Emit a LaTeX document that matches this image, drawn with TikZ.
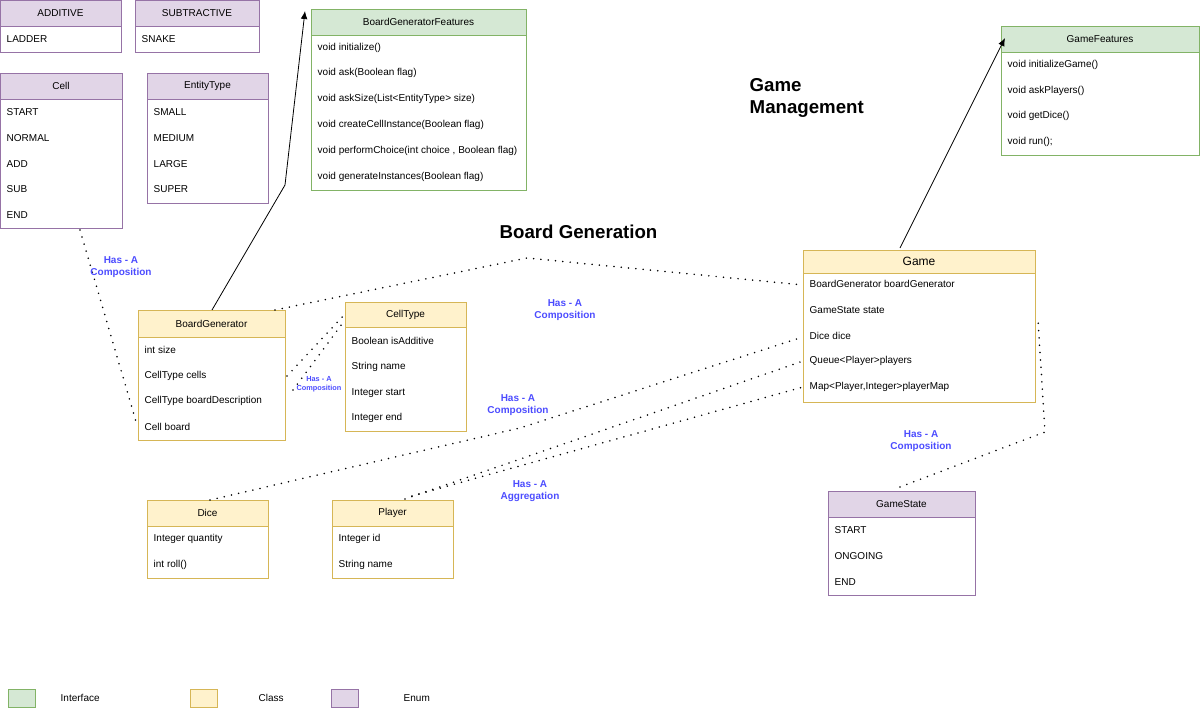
\documentclass[tikz,border=0pt]{standalone}
\usepackage{fontspec}
\setmainfont{Liberation Sans}
\begin{document}
\begin{tikzpicture}[x=0.75pt,y=-0.75pt,font=\fontsize{7.5}{9}\selectfont,
 dots/.style={line width=1.3pt,dotted,line cap=round,dash pattern=on 0pt off 5.5pt},
 lbl/.style={text=blue!70!white,font=\fontsize{7.5}{9}\selectfont\bfseries,align=center},
 arr/.style={-{Latex[length=6pt,width=5pt]},line width=0.6pt}]
\usetikzlibrary{arrows.meta}
\definecolor{gf}{HTML}{D5E8D4}\definecolor{gs}{HTML}{82B366}
\definecolor{yf}{HTML}{FFF2CC}\definecolor{ys}{HTML}{D6B656}
\definecolor{pf}{HTML}{E1D5E7}\definecolor{ps}{HTML}{9673A6}
\useasboundingbox (0,0) rectangle (1200,713);
% box macro: name, x1,y1,x2,y2, header bottom, fill, stroke, title
\newcommand{\umlbox}[9]{%
 \fill[white] (#2,#3) rectangle (#4,#5);
 \fill[#7] (#2,#3) rectangle (#4,#6);
 \draw[#8,line width=0.6pt] (#2,#3) rectangle (#4,#5) (#2,#6) -- (#4,#6);
 \node (#1) at ({(#2+#4)/2},{(#3+#6)/2}) {#9};
 \coordinate (#1-nw) at (#2,#3);}
\newcommand{\row}[3]{\node[anchor=west] at (#1,#2) {#3};}
% enums
\umlbox{add}{0}{0}{121}{52}{26}{pf}{ps}{ADDITIVE}\row{2}{39}{LADDER}
\umlbox{sub}{135}{0}{259}{52}{26}{pf}{ps}{SUBTRACTIVE}\row{137}{39}{SNAKE}
\umlbox{cell}{0}{73}{122}{228}{99}{pf}{ps}{Cell}
\row{2}{112}{START}\row{2}{138}{NORMAL}\row{2}{164}{ADD}\row{2}{189}{SUB}\row{2}{215}{END}
\umlbox{ent}{147}{73}{268}{203}{99}{pf}{ps}{EntityType}
\row{149}{112}{SMALL}\row{149}{138}{MEDIUM}\row{149}{164}{LARGE}\row{149}{189}{SUPER}
\umlbox{gs}{828}{491}{975}{595}{517}{pf}{ps}{GameState}
\row{830}{530}{START}\row{830}{556}{ONGOING}\row{830}{582}{END}
% interfaces
\umlbox{bgf}{311}{9}{526}{190}{35}{gf}{gs}{BoardGeneratorFeatures}
\row{313}{48}{void initialize()}\row{313}{73}{void ask(Boolean flag)}
\row{313}{99}{void askSize(List<EntityType> size)}\row{313}{125}{void createCellInstance(Boolean flag)}
\row{313}{151}{void performChoice(int choice , Boolean flag)}\row{313}{177}{void generateInstances(Boolean flag)}
\umlbox{gf}{1001}{26}{1199}{155}{52}{gf}{gs}{GameFeatures}
\row{1003}{65}{void initializeGame()}\row{1003}{91}{void askPlayers()}\row{1003}{116}{void getDice()}\row{1003}{142}{void run();}
% classes
\umlbox{game}{803}{250}{1035}{402}{273}{yf}{ys}{\fontsize{9}{11}\selectfont Game}
\row{805}{284}{BoardGenerator boardGenerator}\row{805}{310}{GameState state}\row{805}{336}{Dice dice}
\row{805}{361}{Queue<Player>players}\row{805}{387}{Map<Player,Integer>playerMap}
\umlbox{bg}{138}{310}{285}{440}{337}{yf}{ys}{BoardGenerator}
\row{140}{350}{int size}\row{140}{376}{CellType cells}\row{140}{401}{CellType boardDescription}\row{140}{427}{Cell board}
\umlbox{ct}{345}{302}{466}{431}{327}{yf}{ys}{CellType}
\row{347}{341}{Boolean isAdditive}\row{347}{367}{String name}\row{347}{393}{Integer start}\row{347}{418}{Integer end}
\umlbox{dice}{147}{500}{268}{578}{526}{yf}{ys}{Dice}
\row{149}{539}{Integer quantity}\row{149}{565}{int roll()}
\umlbox{pl}{332}{500}{453}{578}{526}{yf}{ys}{Player}
\row{334}{539}{Integer id}\row{334}{565}{String name}
% titles
\node[anchor=west,font=\fontsize{14}{17}\selectfont\bfseries,align=left] (t1) at (745,98) {Game\\Management};
\node[anchor=west,font=\fontsize{14}{17}\selectfont\bfseries] (t2) at (495,232) {Board Generation};
% arrows
\coordinate (a1) at (212,310);\coordinate (a2) at (285,185);\coordinate (a3) at (305,11);
\draw[arr] (a1) -- (a2) -- (a3);
\coordinate (b1) at (900,248);\coordinate (b2) at (1005,38);
\draw[arr] (b1) -- (b2);
% dotted
\coordinate (c1) at (80,230);\coordinate (c2) at (137,425);
\draw[dots] (c1) -- (c2);
\node[lbl] (l1) at (121,267) {Has - A\\Composition};
\coordinate (d1) at (275,310);\coordinate (d2) at (527,258);\coordinate (d3) at (803,285);
\draw[dots] (d1) -- (d2) -- (d3);
\node[lbl] (l2) at (565,310) {Has - A\\Composition};
\coordinate (e1) at (287,376);\coordinate (e2) at (345,314);
\coordinate (e3) at (293,390);\coordinate (e4) at (345,320);
\draw[dots] (e1) -- (e2); \draw[dots] (e3) -- (e4);
\node[lbl,font=\fontsize{5.5}{6.5}\selectfont\bfseries] (l3) at (319,384) {Has - A\\Composition};
\coordinate (f1) at (210,500);\coordinate (f2) at (520,428);\coordinate (f3) at (803,337);
\draw[dots] (f1) -- (f2) -- (f3);
\node[lbl] (l4) at (518,405) {Has - A\\Composition};
\coordinate (g1) at (405,499);\coordinate (g2) at (803,361);
\coordinate (g3) at (412,496);\coordinate (g4) at (803,387);
\draw[dots] (g1) -- (g2); \draw[dots] (g3) -- (g4);
\node[lbl] (l5) at (530,491) {Has - A\\Aggregation};
\coordinate (h1) at (900,487);\coordinate (h2) at (1045,432);\coordinate (h3) at (1038,320);
\draw[dots] (h1) -- (h2) -- (h3);
\node[lbl] (l6) at (921,441) {Has - A\\Composition};
% legend
\draw[gs,fill=gf] (8,689) rectangle (35,707);\node[anchor=west] (k1) at (56,698) {Interface};
\draw[ys,fill=yf] (190,689) rectangle (217,707);\node[anchor=west] (k2) at (254,698) {Class};
\draw[ps,fill=pf] (331,689) rectangle (358,707);\node[anchor=west] (k3) at (399,698) {Enum};
\end{tikzpicture}
\end{document}
